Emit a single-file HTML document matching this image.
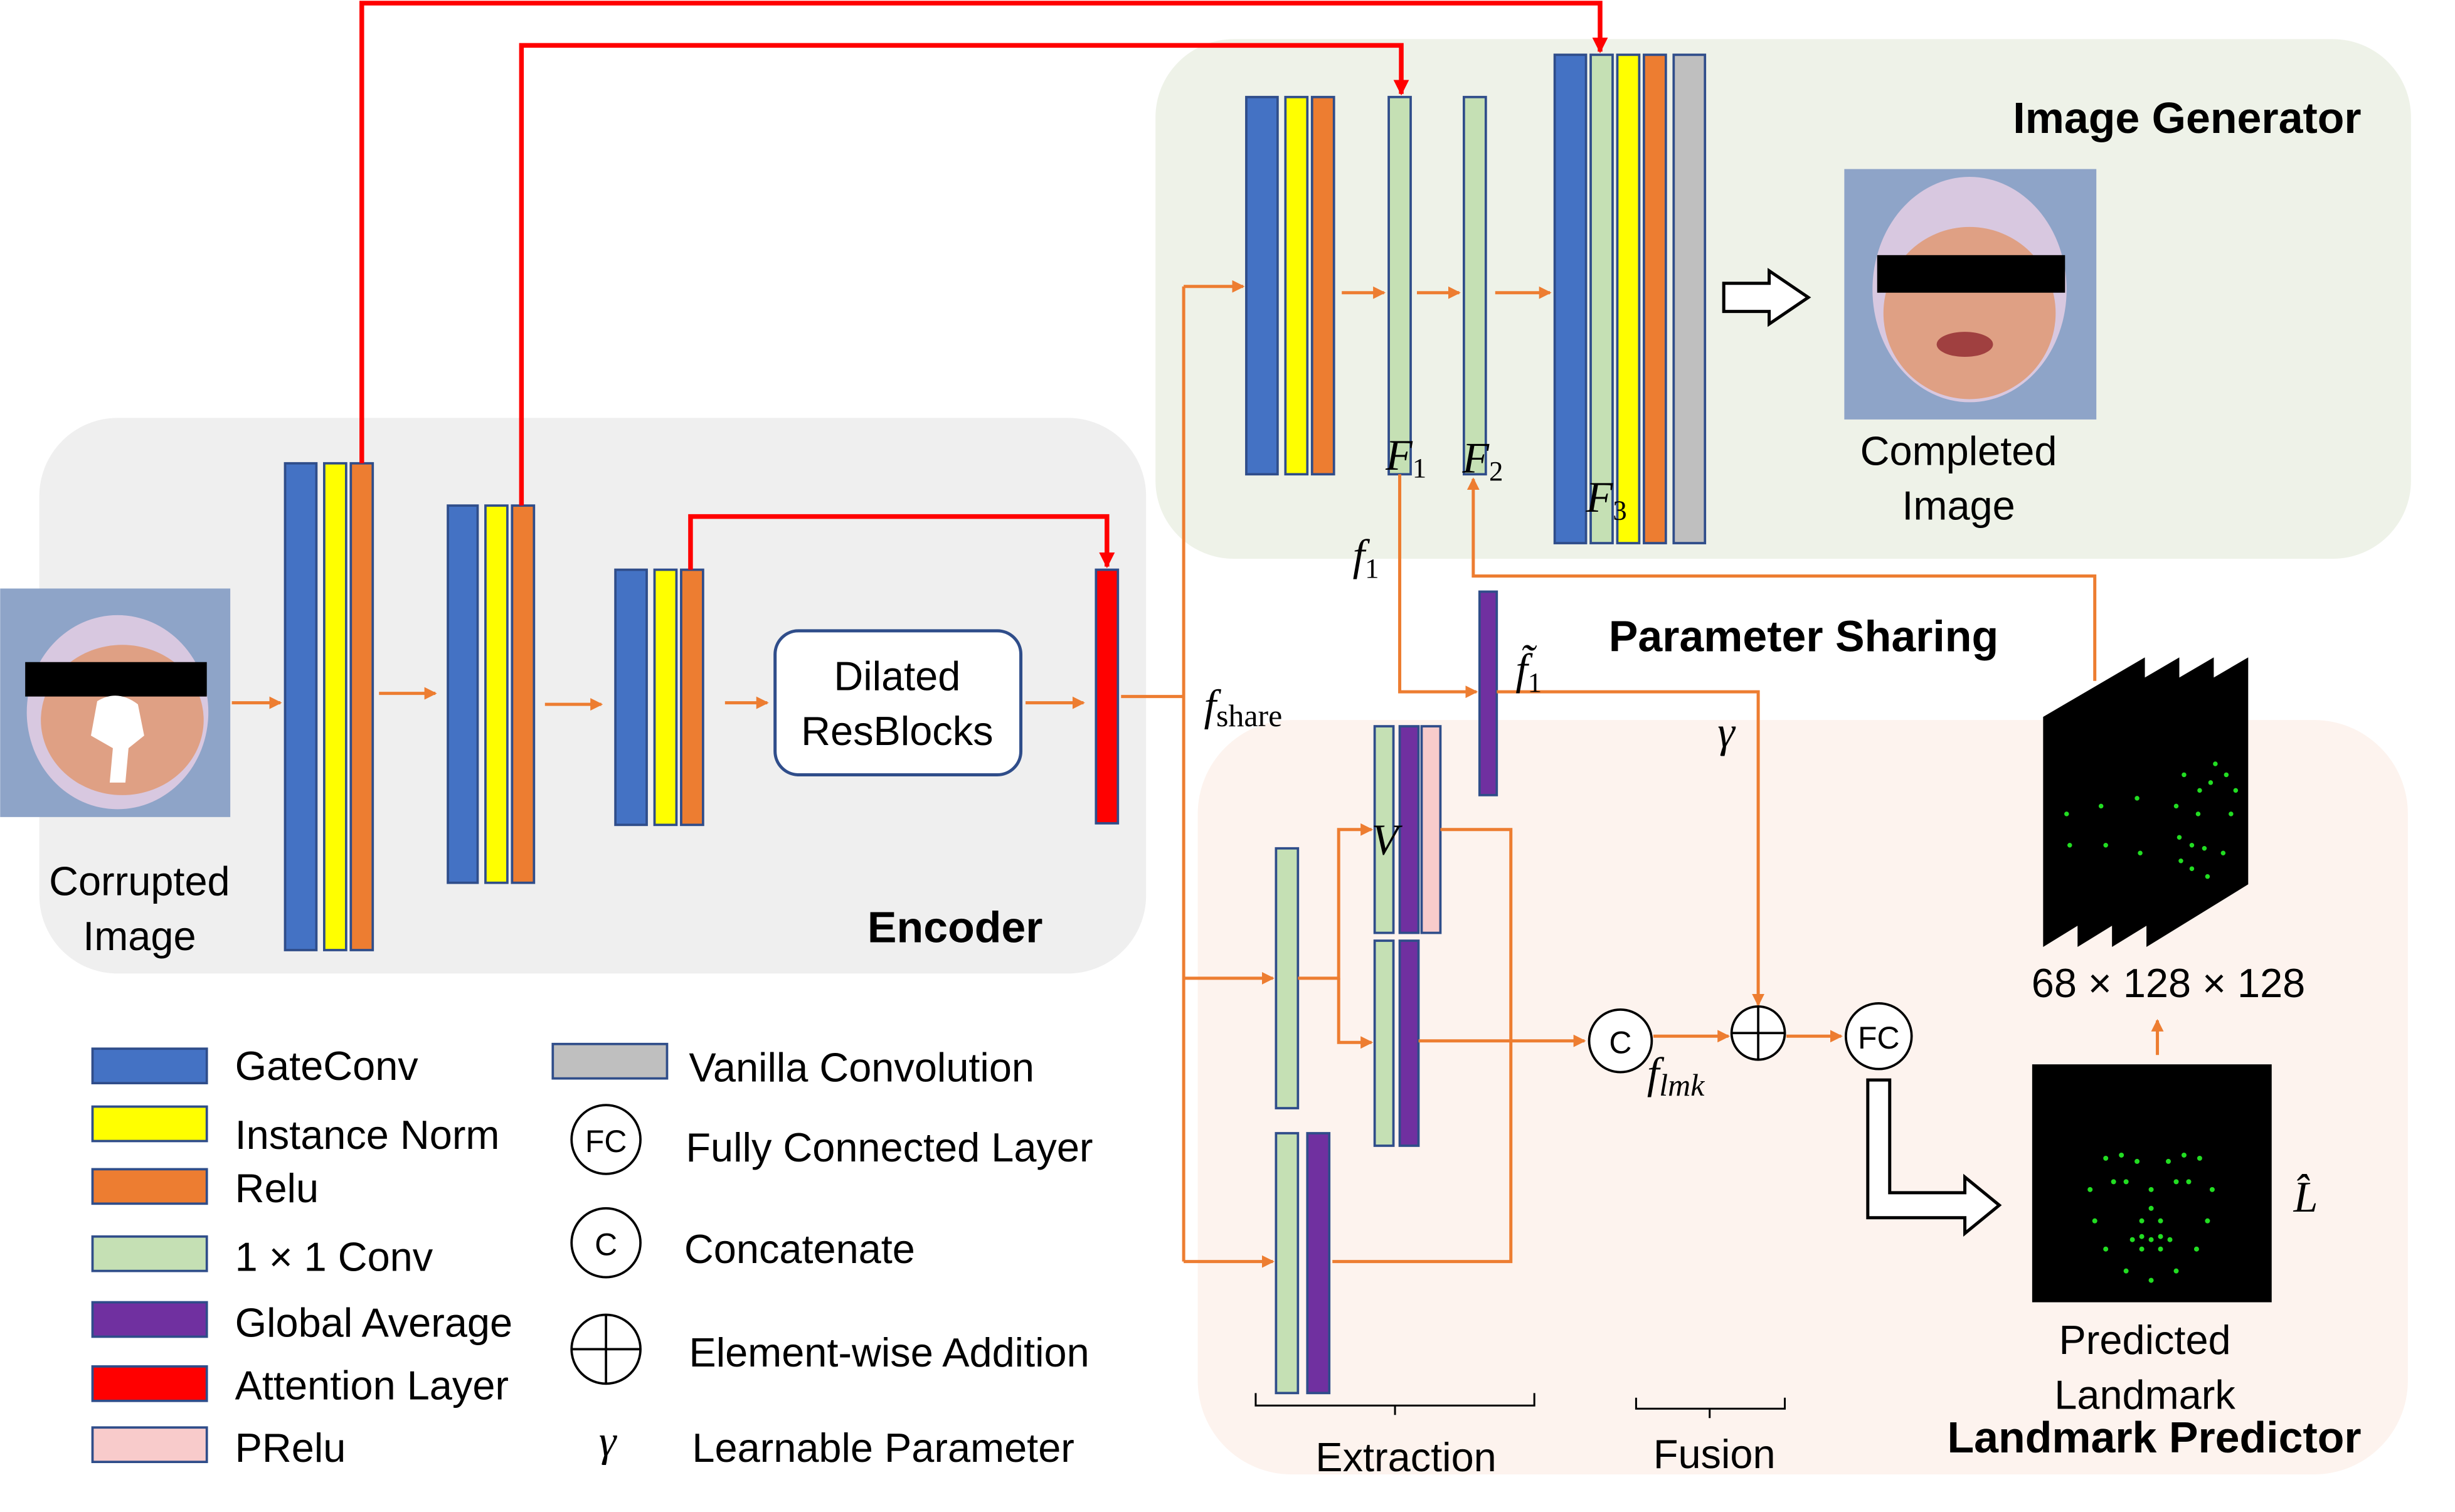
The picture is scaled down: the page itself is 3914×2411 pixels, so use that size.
<!DOCTYPE html>
<html><head><meta charset="utf-8"><style>
html,body{margin:0;padding:0;background:#fff;}
svg{display:block;}
text{font-family:"Liberation Sans",sans-serif;}
.m{font-family:"Liberation Serif",serif;font-style:italic;}
</style></head><body>
<svg width="3914" height="2411" viewBox="0 0 1568 966" xmlns="http://www.w3.org/2000/svg">
<defs>
<marker id="ao" markerWidth="8" markerHeight="8" refX="7" refY="4" orient="auto" markerUnits="userSpaceOnUse"><path d="M0,0 L8,4 L0,8 z" fill="#ed7d31"/></marker>
<marker id="ar" markerWidth="10" markerHeight="10" refX="9" refY="5" orient="auto" markerUnits="userSpaceOnUse"><path d="M0,0 L10,5 L0,10 z" fill="#ff0000"/></marker>
</defs>
<rect x="25" y="267" width="707" height="355" rx="50" fill="#efefef"/>
<rect x="738" y="25" width="802" height="332" rx="50" fill="#eef2e8"/>
<rect x="765" y="460" width="773" height="482" rx="60" fill="#fdf3ee"/>

<rect x="0" y="376" width="147" height="146" fill="#8ea4c8"/>
<ellipse cx="75" cy="455" rx="58" ry="62" fill="#d8c8e0"/>
<ellipse cx="78" cy="460" rx="52" ry="48" fill="#dfa084"/>
<rect x="16" y="423" width="116" height="22" fill="#000"/>
<path d="M62,448 Q75,440 88,450 L92,470 L82,478 L80,500 L70,500 L72,478 L58,470 z" fill="#fff"/>

<g stroke="#2f4d8a" stroke-width="1.5">
<rect x="182" y="296" width="20" height="311" fill="#4472c4"/>
<rect x="207" y="296" width="14" height="311" fill="#ffff00"/>
<rect x="224" y="296" width="14" height="311" fill="#ed7d31"/>
<rect x="286" y="323" width="19" height="241" fill="#4472c4"/>
<rect x="310" y="323" width="14" height="241" fill="#ffff00"/>
<rect x="327" y="323" width="14" height="241" fill="#ed7d31"/>
<rect x="393" y="364" width="20" height="163" fill="#4472c4"/>
<rect x="418" y="364" width="14" height="163" fill="#ffff00"/>
<rect x="435" y="364" width="14" height="163" fill="#ed7d31"/>
<rect x="700" y="364" width="14" height="162" fill="#ff0000"/>
<rect x="796" y="62" width="20" height="241" fill="#4472c4"/>
<rect x="821" y="62" width="14" height="241" fill="#ffff00"/>
<rect x="838" y="62" width="14" height="241" fill="#ed7d31"/>
<rect x="887" y="62" width="14" height="241" fill="#c5e0b4"/>
<rect x="935" y="62" width="14" height="241" fill="#c5e0b4"/>
<rect x="993" y="35" width="20" height="312" fill="#4472c4"/>
<rect x="1016" y="35" width="14" height="312" fill="#c5e0b4"/>
<rect x="1033" y="35" width="14" height="312" fill="#ffff00"/>
<rect x="1050" y="35" width="14" height="312" fill="#ed7d31"/>
<rect x="1069" y="35" width="20" height="312" fill="#bfbfbf"/>
<rect x="945" y="378" width="11" height="130" fill="#7030a0"/>
<rect x="815" y="542" width="14" height="166" fill="#c5e0b4"/>
<rect x="878" y="464" width="12" height="132" fill="#c5e0b4"/>
<rect x="894" y="464" width="12" height="132" fill="#7030a0"/>
<rect x="908" y="464" width="12" height="132" fill="#f8cbcb"/>
<rect x="878" y="601" width="12" height="131" fill="#c5e0b4"/>
<rect x="894" y="601" width="12" height="131" fill="#7030a0"/>
<rect x="815" y="724" width="14" height="166" fill="#c5e0b4"/>
<rect x="835" y="724" width="14" height="166" fill="#7030a0"/>
</g>
<rect x="495" y="403" width="157" height="92" rx="15" fill="#fff" stroke="#2f4d8a" stroke-width="2"/>
<text x="573" y="441" font-size="26" text-anchor="middle">Dilated</text>
<text x="573" y="476" font-size="26" text-anchor="middle">ResBlocks</text>

<g fill="none" stroke="#ff0000" stroke-width="3">
<path d="M231,296 V2 H1022 V33" marker-end="url(#ar)"/>
<path d="M333,323 V29 H895 V60" marker-end="url(#ar)"/>
<path d="M441,364 V330 H707 V362" marker-end="url(#ar)"/>
</g>

<g fill="none" stroke="#ed7d31" stroke-width="2">
<path d="M148,449 H179" marker-end="url(#ao)"/>
<path d="M242,443 H278" marker-end="url(#ao)"/>
<path d="M348,450 H384" marker-end="url(#ao)"/>
<path d="M463,449 H490" marker-end="url(#ao)"/>
<path d="M655,449 H692" marker-end="url(#ao)"/>
<path d="M716,445 H756"/>
<path d="M756,183 V806"/>
<path d="M756,183 H794" marker-end="url(#ao)"/>
<path d="M756,625 H813" marker-end="url(#ao)"/>
<path d="M756,806 H813" marker-end="url(#ao)"/>
<path d="M857,187 H884" marker-end="url(#ao)"/>
<path d="M905,187 H932" marker-end="url(#ao)"/>
<path d="M955,187 H990" marker-end="url(#ao)"/>
<path d="M894,303 V442 H943" marker-end="url(#ao)"/>
<path d="M956,442 H1123 V642" marker-end="url(#ao)"/>
<path d="M1338,435 V368 H941 V306" marker-end="url(#ao)"/>
<path d="M829,625 H855 V530 H876" marker-end="url(#ao)"/>
<path d="M855,625 V666 H876" marker-end="url(#ao)"/>
<path d="M920,530 H965 V806 H851"/>
<path d="M906,665 H1012" marker-end="url(#ao)"/>
<path d="M1056,662 H1104" marker-end="url(#ao)"/>
<path d="M1141,662 H1176" marker-end="url(#ao)"/>
<path d="M1378,674 V652" marker-end="url(#ao)"/>
</g>

<circle cx="1035" cy="665" r="20" fill="#fff" stroke="#000" stroke-width="1.5"/>
<text x="1035" y="673" font-size="20" text-anchor="middle">C</text>
<circle cx="1123" cy="660" r="17" fill="#fff" stroke="#000" stroke-width="1.5"/>
<path d="M1106,660 H1140 M1123,643 V677" stroke="#000" stroke-width="1.5"/>
<circle cx="1200" cy="662" r="21" fill="#fff" stroke="#000" stroke-width="1.5"/>
<text x="1200" y="670" font-size="20" text-anchor="middle">FC</text>

<path d="M1101,181 H1130 V173 L1155,190 L1130,207 V199 H1101 z" fill="#fff" stroke="#000" stroke-width="2"/>
<path d="M1193,690 H1207 V762 H1255 V752 L1277,770 L1255,788 V778 H1193 z" fill="#fff" stroke="#000" stroke-width="2"/>

<rect x="1178" y="108" width="161" height="160" fill="#8ea4c8"/>
<ellipse cx="1258" cy="185" rx="62" ry="72" fill="#d8c8e0"/>
<ellipse cx="1258" cy="200" rx="55" ry="55" fill="#dfa084"/>
<rect x="1199" y="163" width="120" height="24" fill="#000"/>
<ellipse cx="1255" cy="220" rx="18" ry="8" fill="#a04040"/>

<g fill="#000">
<polygon points="1305,458 1370,420 1370,565 1305,605"/>
<polygon points="1327,458 1392,420 1392,565 1327,605"/>
<polygon points="1349,458 1414,420 1414,565 1349,605"/>
<polygon points="1371,458 1436,420 1436,565 1371,605"/>
</g>
<g fill="#22dd22">
<circle cx="1395" cy="495" r="1.5"/><circle cx="1390" cy="515" r="1.5"/><circle cx="1392" cy="535" r="1.5"/><circle cx="1400" cy="555" r="1.5"/><circle cx="1410" cy="560" r="1.5"/><circle cx="1420" cy="545" r="1.5"/><circle cx="1425" cy="520" r="1.5"/><circle cx="1422" cy="495" r="1.5"/><circle cx="1405" cy="505" r="1.5"/><circle cx="1412" cy="500" r="1.5"/><circle cx="1400" cy="540" r="1.5"/><circle cx="1408" cy="542" r="1.5"/><circle cx="1404" cy="520" r="1.5"/><circle cx="1415" cy="488" r="1.5"/><circle cx="1428" cy="505" r="1.5"/><circle cx="1393" cy="550" r="1.5"/>
<circle cx="1320" cy="520" r="1.5"/><circle cx="1322" cy="540" r="1.5"/><circle cx="1342" cy="515" r="1.5"/><circle cx="1345" cy="540" r="1.5"/><circle cx="1365" cy="510" r="1.5"/><circle cx="1367" cy="545" r="1.5"/>
</g>

<rect x="1298" y="680" width="153" height="152" fill="#000"/>
<g fill="#22dd22">
<circle cx="1335" cy="760" r="1.6"/><circle cx="1338" cy="780" r="1.6"/><circle cx="1345" cy="798" r="1.6"/><circle cx="1358" cy="812" r="1.6"/><circle cx="1374" cy="818" r="1.6"/><circle cx="1390" cy="812" r="1.6"/><circle cx="1403" cy="798" r="1.6"/><circle cx="1410" cy="780" r="1.6"/><circle cx="1413" cy="760" r="1.6"/>
<circle cx="1345" cy="740" r="1.6"/><circle cx="1355" cy="738" r="1.6"/><circle cx="1365" cy="742" r="1.6"/><circle cx="1385" cy="742" r="1.6"/><circle cx="1395" cy="738" r="1.6"/><circle cx="1405" cy="740" r="1.6"/>
<circle cx="1350" cy="755" r="1.6"/><circle cx="1358" cy="755" r="1.6"/><circle cx="1390" cy="755" r="1.6"/><circle cx="1398" cy="755" r="1.6"/>
<circle cx="1374" cy="760" r="1.6"/><circle cx="1374" cy="772" r="1.6"/><circle cx="1368" cy="780" r="1.6"/><circle cx="1380" cy="780" r="1.6"/>
<circle cx="1362" cy="792" r="1.6"/><circle cx="1368" cy="790" r="1.6"/><circle cx="1374" cy="792" r="1.6"/><circle cx="1380" cy="790" r="1.6"/><circle cx="1386" cy="792" r="1.6"/><circle cx="1368" cy="798" r="1.6"/><circle cx="1380" cy="798" r="1.6"/>
</g>

<path d="M802,890 V898 H980 V890 M891,898 V904" fill="none" stroke="#000" stroke-width="1.2"/>
<path d="M1045,893 V900 H1140 V893 M1092,900 V906" fill="none" stroke="#000" stroke-width="1.2"/>

<g font-size="26">
<text x="1397" y="85" text-anchor="middle" font-weight="bold" font-size="28">Image Generator</text>
<text x="1152" y="416" text-anchor="middle" font-weight="bold" font-size="28">Parameter Sharing</text>
<text x="610" y="602" text-anchor="middle" font-weight="bold" font-size="28">Encoder</text>
<text x="1376" y="928" text-anchor="middle" font-weight="bold" font-size="28">Landmark Predictor</text>
<text x="89" y="572" text-anchor="middle">Corrupted</text>
<text x="89" y="607" text-anchor="middle">Image</text>
<text x="1251" y="297" text-anchor="middle">Completed</text>
<text x="1251" y="332" text-anchor="middle">Image</text>
<text x="1370" y="865" text-anchor="middle">Predicted</text>
<text x="1370" y="900" text-anchor="middle">Landmark</text>
<text x="1385" y="637" text-anchor="middle">68 × 128 × 128</text>
<text x="898" y="940" text-anchor="middle">Extraction</text>
<text x="1095" y="938" text-anchor="middle">Fusion</text>
</g>
<g font-size="28">
<text x="769" y="460" class="m">f<tspan font-size="20" font-style="normal" dy="4">share</tspan></text>
<text x="864" y="364" class="m">f<tspan font-size="18" font-style="normal" dy="5">1</tspan></text>
<text x="968" y="437" class="m">f̃<tspan font-size="18" font-style="normal" dy="5">1</tspan></text>
<text x="885" y="300" class="m">F<tspan font-size="18" font-style="normal" dy="5">1</tspan></text>
<text x="934" y="302" class="m">F<tspan font-size="18" font-style="normal" dy="5">2</tspan></text>
<text x="1013" y="327" class="m">F<tspan font-size="18" font-style="normal" dy="5">3</tspan></text>
<text x="876" y="546" class="m">V</text>
<text x="1097" y="477" class="m">γ</text>
<text x="1052" y="695" class="m">f<tspan font-size="20" dy="5">lmk</tspan></text>
<text x="1465" y="774" class="m">L̂</text>
</g>

<g stroke="#2f4d8a" stroke-width="1.5">
<rect x="59" y="670" width="73" height="22" fill="#4472c4"/>
<rect x="59" y="707" width="73" height="22" fill="#ffff00"/>
<rect x="59" y="747" width="73" height="22" fill="#ed7d31"/>
<rect x="59" y="790" width="73" height="22" fill="#c5e0b4"/>
<rect x="59" y="832" width="73" height="22" fill="#7030a0"/>
<rect x="59" y="873" width="73" height="22" fill="#ff0000"/>
<rect x="59" y="912" width="73" height="22" fill="#f8cbcb"/>
<rect x="353" y="667" width="73" height="22" fill="#bfbfbf"/>
</g>
<g font-size="26">
<text x="150" y="690">GateConv</text>
<text x="150" y="734">Instance Norm</text>
<text x="150" y="768">Relu</text>
<text x="150" y="812">1 × 1 Conv</text>
<text x="150" y="854">Global Average</text>
<text x="150" y="894">Attention Layer</text>
<text x="150" y="934">PRelu</text>
<text x="440" y="691">Vanilla Convolution</text>
<text x="438" y="742">Fully Connected Layer</text>
<text x="437" y="807">Concatenate</text>
<text x="440" y="873">Element-wise Addition</text>
<text x="442" y="934">Learnable Parameter</text>
</g>
<circle cx="387" cy="728" r="22" fill="#fff" stroke="#000" stroke-width="1.5"/>
<text x="387" y="736" font-size="20" text-anchor="middle">FC</text>
<circle cx="387" cy="794" r="22" fill="#fff" stroke="#000" stroke-width="1.5"/>
<text x="387" y="802" font-size="20" text-anchor="middle">C</text>
<circle cx="387" cy="862" r="22" fill="#fff" stroke="#000" stroke-width="1.5"/>
<path d="M365,862 H409 M387,840 V884" stroke="#000" stroke-width="1.5"/>
<text x="388" y="930" font-size="28" text-anchor="middle" class="m">γ</text>
</svg>
</body></html>
